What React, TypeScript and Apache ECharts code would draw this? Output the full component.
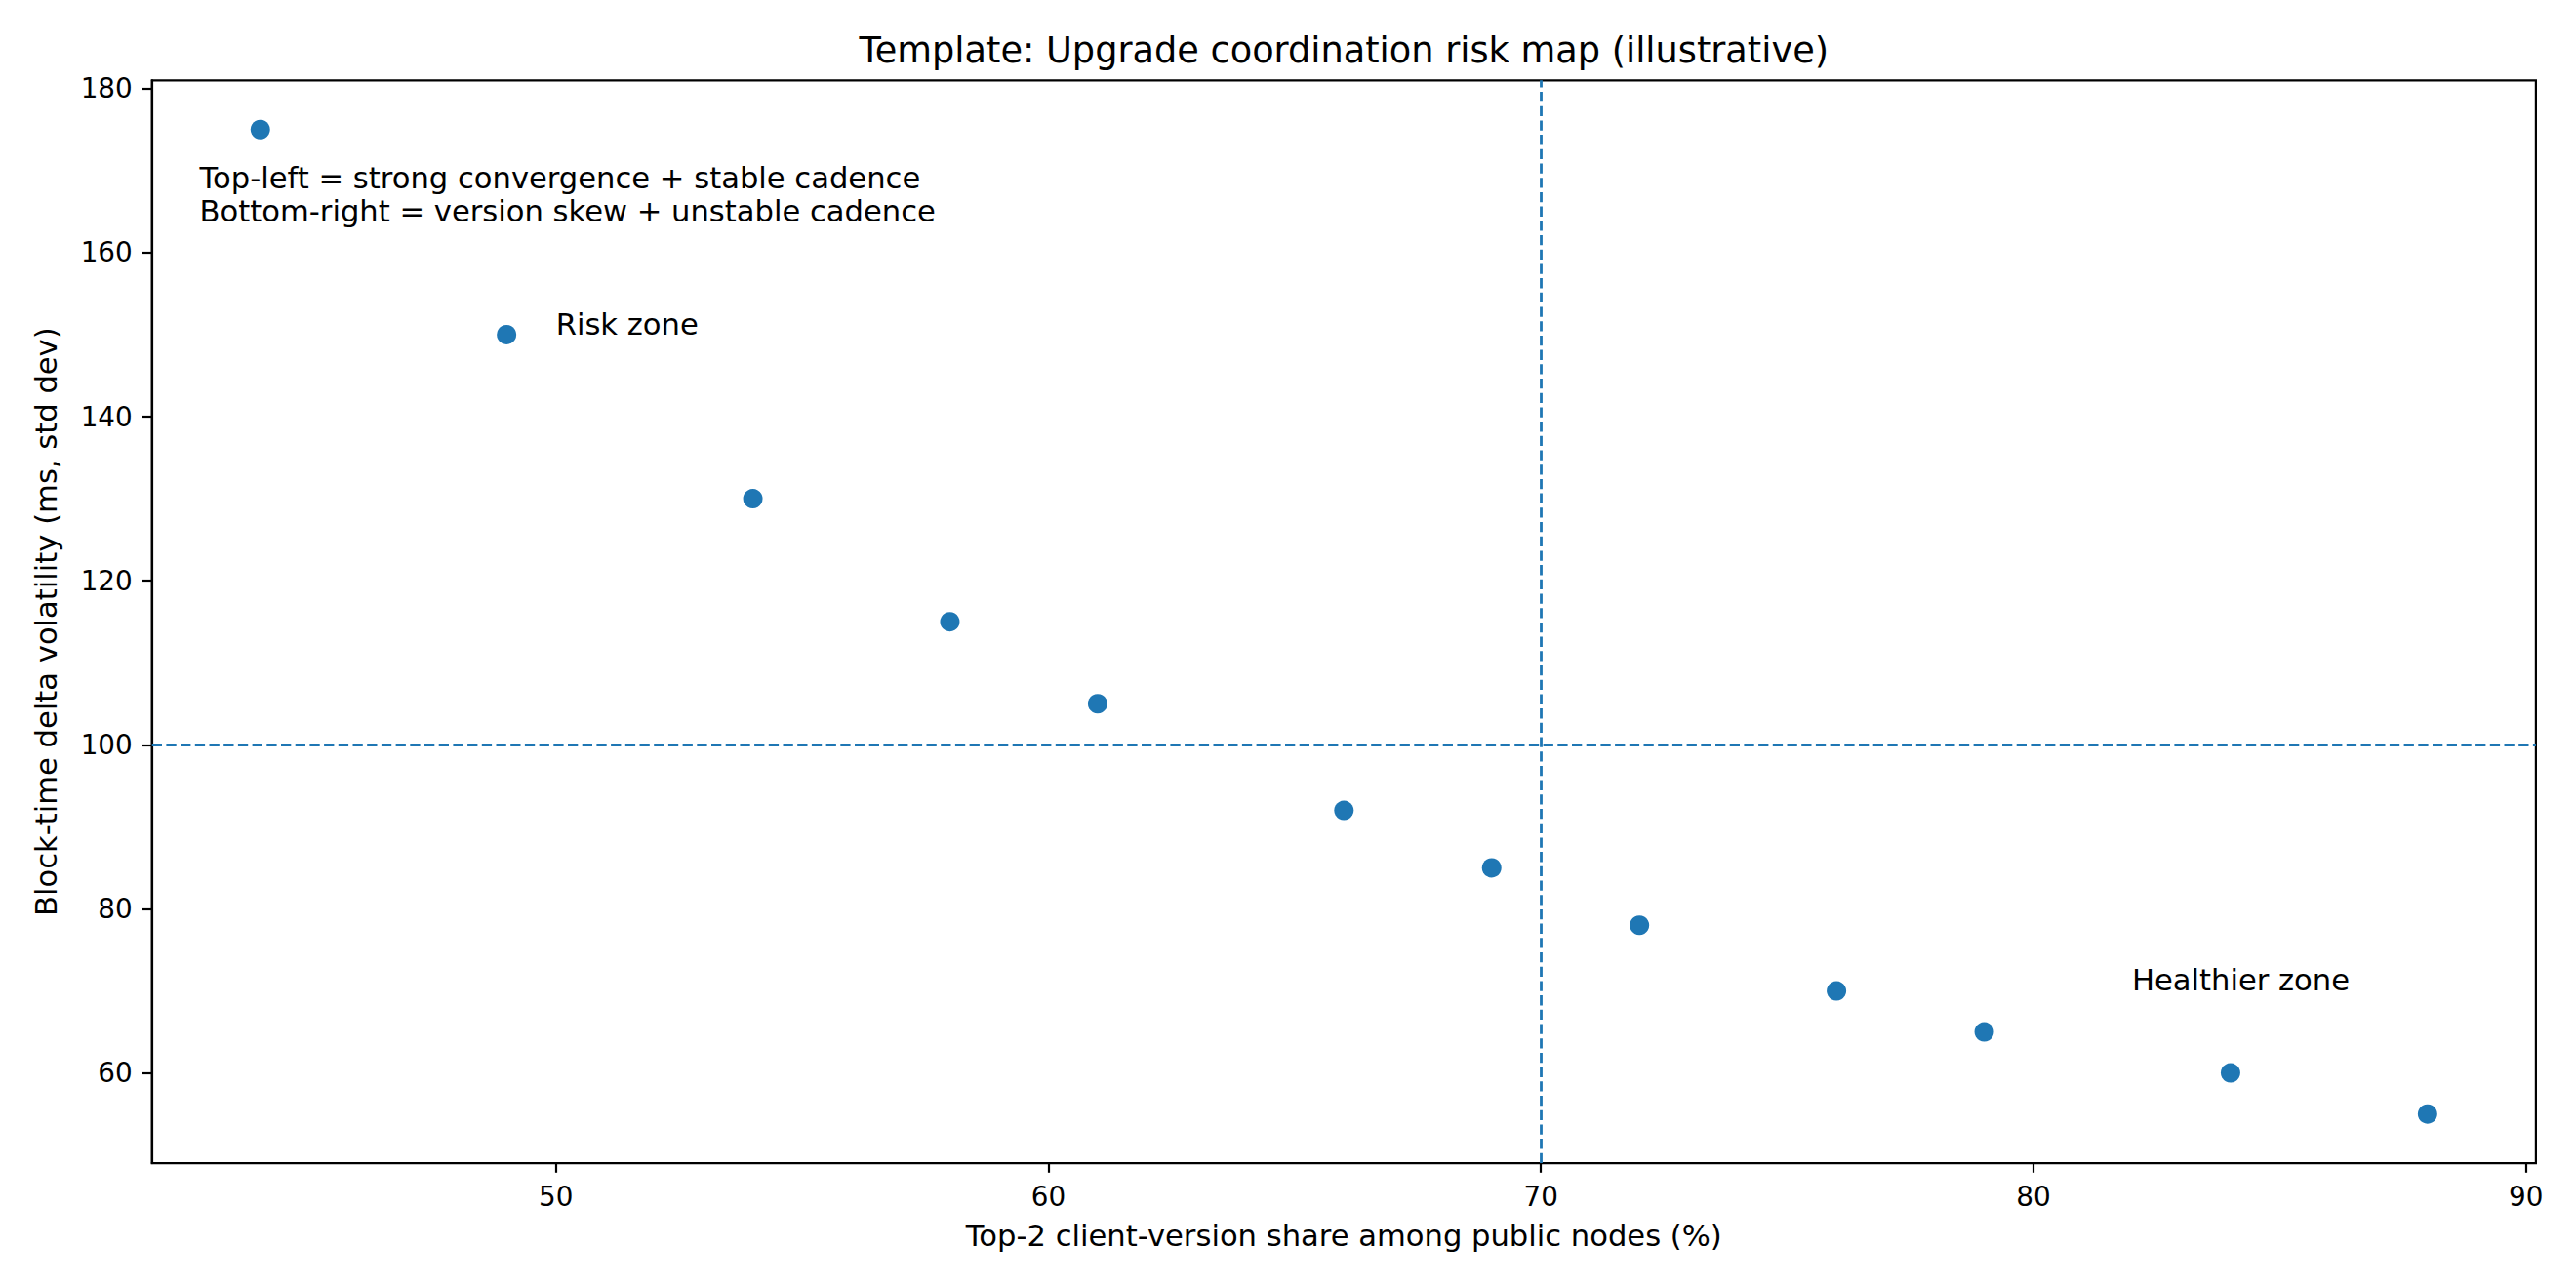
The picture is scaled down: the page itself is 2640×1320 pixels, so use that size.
import React, { useEffect, useRef } from "react";
import * as echarts from "echarts";

// ---- data ----
const shareX = [44, 49, 54, 58, 61, 66, 69, 72, 76, 79, 84, 88];
const volatilityY = [175, 150, 130, 115, 105, 92, 85, 78, 70, 65, 60, 55];
const xTicks = [50, 60, 70, 80, 90];
const yTicks = [60, 80, 100, 120, 140, 160, 180];
const xThreshold = 70;
const yThreshold = 100;
const annotationTexts = ["Risk zone", "Healthier zone"];
const annotationX = [50, 82];
const annotationY = [150, 70];
const noteLines = [
  "Top-left = strong convergence + stable cadence",
  "Bottom-right = version skew + unstable cadence",
];
const titleText = "Template: Upgrade coordination risk map (illustrative)";
const xName = "Top-2 client-version share among public nodes (%)";
const yName = "Block-time delta volatility (ms, std dev)";

// ---- layout ----
const W = 2640;
const H = 1320;
const TICK_FS = 27.8;
const FS = 30.6;
const TITLE_FS = 36.7;
const BLUE = "#1f77b4";
const FONT = "DejaVu Sans";
const gridLeft = 155.7;
const gridTop = 82.3;
const gridRight = 41.1;
const gridBottom = 127.9;
const CENTRAL = 0.346; // central baseline offset (em)

export default function App() {
  const ref = useRef<HTMLDivElement>(null);
  useEffect(() => {
    if (!ref.current) return;
    const chart = echarts.init(ref.current, null, { renderer: "svg" });
    const plotW = W - gridLeft - gridRight;
    const plotH = H - gridTop - gridBottom;
    const cx = gridLeft + plotW / 2;
    const cy = gridTop + plotH / 2;

    const textStyle = (text: string, size: number, align = "left") => ({
      text,
      fontSize: size,
      fontFamily: FONT,
      fill: "#000",
      align,
      verticalAlign: "middle",
    });

    const option: any = {
      animation: false,
      backgroundColor: "#fff",
      textStyle: { fontFamily: FONT },
      grid: {
        left: gridLeft,
        top: gridTop,
        right: gridRight,
        bottom: gridBottom,
        show: true,
        borderColor: "#000",
        borderWidth: 2.2,
        backgroundColor: "transparent",
      },
      xAxis: {
        type: "value",
        min: 41.8,
        max: 90.2,
        name: xName,
        nameLocation: "middle",
        nameGap: 59.1,
        nameTextStyle: { fontSize: FS, color: "#000", fontFamily: FONT },
        axisLine: { show: true, lineStyle: { color: "#000", width: 2.2 } },
        axisTick: {
          show: true,
          length: 9.7,
          lineStyle: { color: "#000", width: 2.2 },
          customValues: xTicks,
        },
        axisLabel: {
          fontSize: TICK_FS,
          color: "#000",
          margin: 20,
          fontFamily: FONT,
          customValues: xTicks,
        },
        splitLine: { show: false },
      },
      yAxis: {
        type: "value",
        min: 49,
        max: 181,
        axisLine: { show: true, lineStyle: { color: "#000", width: 2.2 } },
        axisTick: {
          show: true,
          length: 9.7,
          lineStyle: { color: "#000", width: 2.2 },
          customValues: yTicks,
        },
        axisLabel: {
          fontSize: TICK_FS,
          color: "#000",
          margin: 20,
          fontFamily: FONT,
          customValues: yTicks,
        },
        splitLine: { show: false },
      },
      series: [
        {
          type: "scatter",
          data: shareX.map((x, i) => [x, volatilityY[i]]),
          symbol: "circle",
          symbolSize: 20,
          itemStyle: { color: BLUE, opacity: 1 },
          silent: true,
          z: 3,
          markLine: {
            silent: true,
            symbol: "none",
            animation: false,
            label: { show: false },
            lineStyle: { color: BLUE, width: 2.8, type: [10.3, 4.4] },
            data: [{ xAxis: xThreshold }, { yAxis: yThreshold }],
          },
        },
      ],
      graphic: [
        {
          type: "text",
          x: cx,
          y: 64.3 - CENTRAL * TITLE_FS,
          style: textStyle(titleText, TITLE_FS, "center"),
        },
        {
          type: "text",
          x: gridLeft + 0.02 * plotW,
          y: 193.3 - CENTRAL * FS,
          style: textStyle(noteLines[0], FS),
        },
        {
          type: "text",
          x: gridLeft + 0.02 * plotW,
          y: 227.3 - CENTRAL * FS,
          style: textStyle(noteLines[1], FS),
        },
        {
          type: "text",
          x: 58.3 - CENTRAL * FS,
          y: cy,
          rotation: Math.PI / 2,
          style: textStyle(yName, FS, "center"),
        },
      ],
    };
    chart.setOption(option);

    // annotations placed through the axis scales
    const annGraphics = annotationTexts.map((t, i) => {
      const p = chart.convertToPixel({ gridIndex: 0 }, [annotationX[i], annotationY[i]]) as number[];
      return {
        type: "text",
        x: p[0],
        y: p[1] - CENTRAL * FS,
        style: textStyle(t, FS),
        z: 10,
      };
    });
    chart.setOption({ graphic: [...option.graphic, ...annGraphics] });
    return () => chart.dispose();
  }, []);
  return (
    <div
      ref={ref}
      style={{ position: "absolute", left: 0, top: 0, width: W, height: H, background: "#fff" }}
    />
  );
}
